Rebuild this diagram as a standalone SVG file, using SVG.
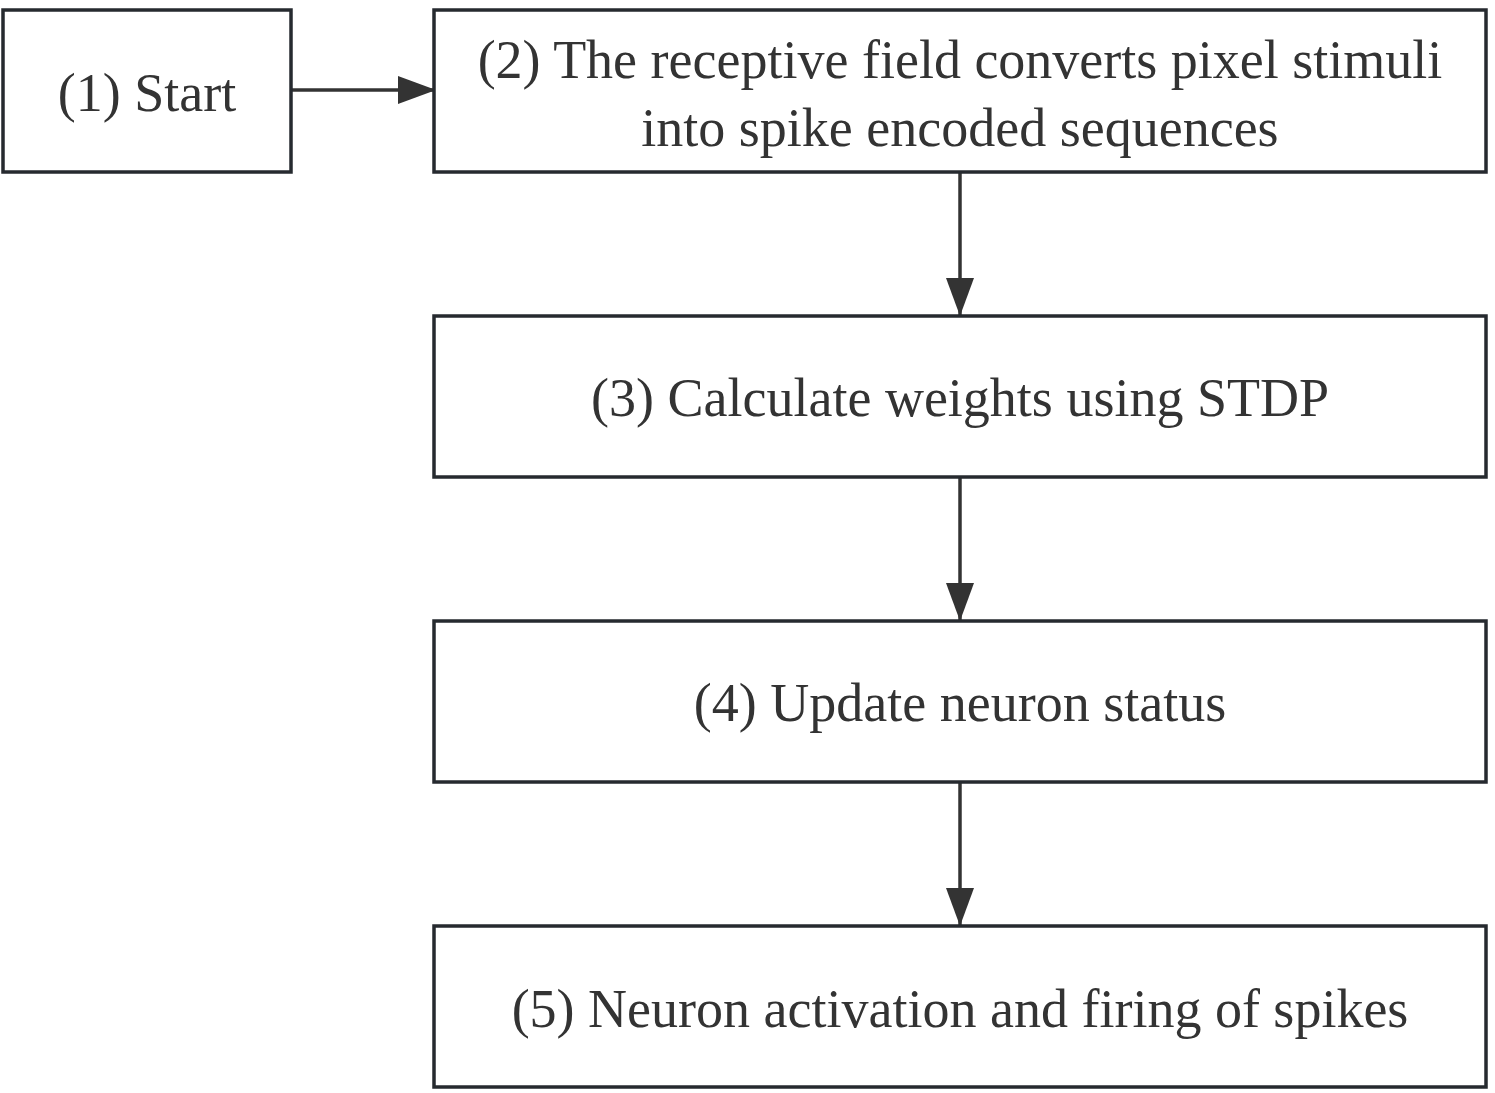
<svg xmlns="http://www.w3.org/2000/svg" width="1495" height="1093" viewBox="0 0 1495 1093">
<defs>
<style>
.box{fill:#fff;stroke:#262a2f;stroke-width:3.5}
.lbl{font-size:54px;fill:#333;text-anchor:middle}
.edge{stroke:#333;stroke-width:3.5;fill:none}
</style>
<marker id="ah" markerUnits="userSpaceOnUse" markerWidth="40" markerHeight="30" refX="38" refY="14" orient="auto">
<path d="M0,0 L38,14 L0,28 Z" fill="#333"/>
</marker>
</defs>
<rect width="1495" height="1093" fill="#fff"/>
<g id="edges">
<line class="edge" x1="292" y1="90" x2="436" y2="90" marker-end="url(#ah)"/>
<line class="edge" x1="960" y1="172" x2="960" y2="316" marker-end="url(#ah)"/>
<line class="edge" x1="960" y1="477" x2="960" y2="621" marker-end="url(#ah)"/>
<line class="edge" x1="960" y1="782" x2="960" y2="926" marker-end="url(#ah)"/>
</g>
<g font-family="Liberation Serif, DejaVu Serif, serif">
<g id="n1"><rect class="box" x="3" y="10" width="288" height="162"/><text class="lbl" x="147" y="111">(1) Start</text></g>
<g id="n2"><rect class="box" x="434" y="10" width="1052" height="162"/><text class="lbl" x="960" y="78">(2) The receptive field converts pixel stimuli</text><text class="lbl" x="960" y="146">into spike encoded sequences</text></g>
<g id="n3"><rect class="box" x="434" y="316" width="1052" height="161"/><text class="lbl" x="960" y="416">(3) Calculate weights using STDP</text></g>
<g id="n4"><rect class="box" x="434" y="621" width="1052" height="161"/><text class="lbl" x="960" y="721">(4) Update neuron status</text></g>
<g id="n5"><rect class="box" x="434" y="926" width="1052" height="161"/><text class="lbl" x="960" y="1027">(5) Neuron activation and firing of spikes</text></g>
</g>
</svg>
